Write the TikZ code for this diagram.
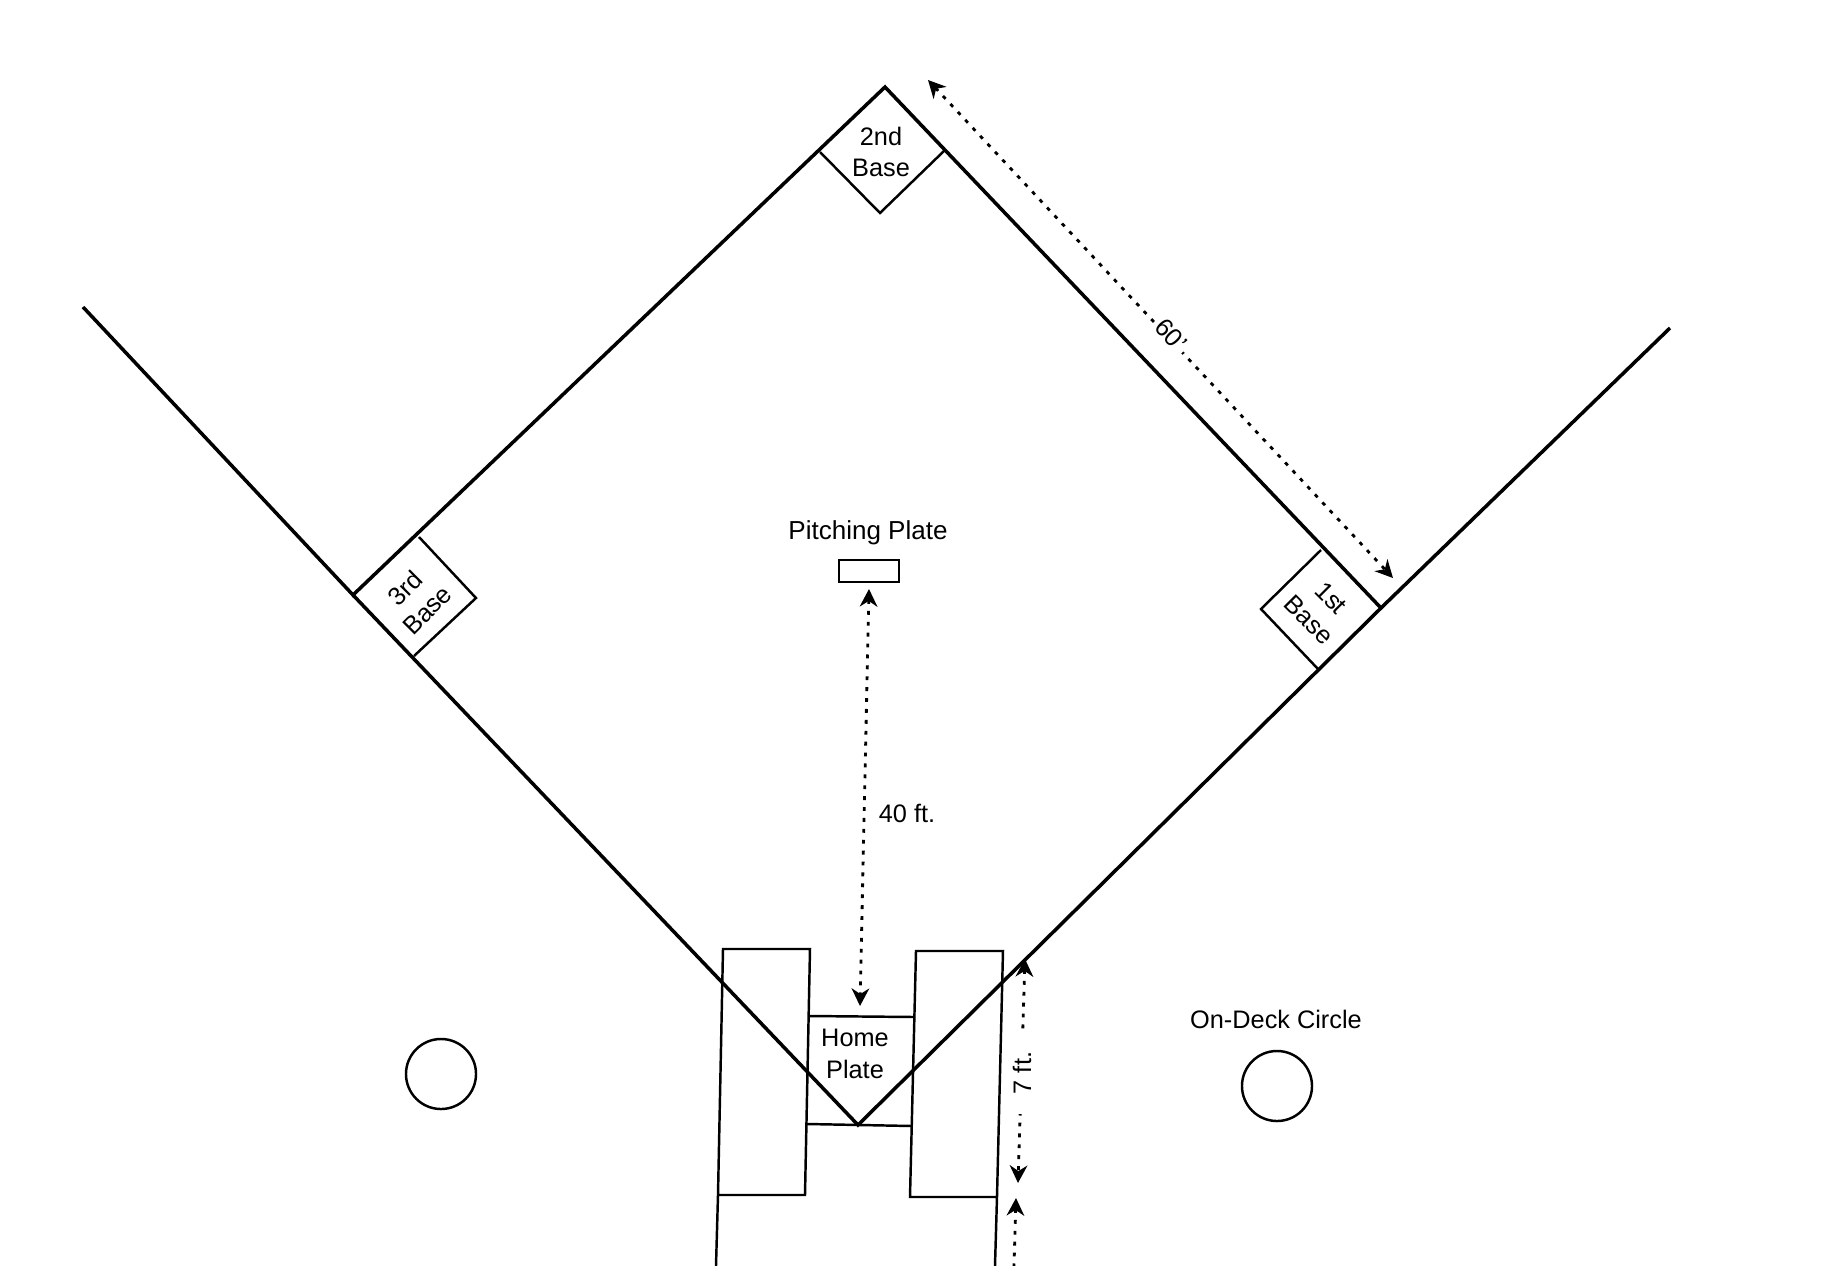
\documentclass[tikz,border=0pt]{standalone}
\usepackage{fontspec}
\setmainfont{Liberation Sans}
\usepackage{tikz}
\usetikzlibrary{arrows.meta}

\tikzset{
    fieldline/.style={line width=1pt},
    boxline/.style={line width=0.7pt},
    dimline/.style={line width=0.8pt,dash pattern=on 1.1pt off 2pt,>={Stealth[length=5pt,width=5pt,inset=1.6pt]}},
    label/.style={inner sep=0pt,align=center,font=\fontsize{7.2}{8.9}\selectfont},
    deckcircle/.style={circle,draw,line width=0.7pt,minimum size=0.7cm,inner sep=0pt}
}

\begin{document}
\begin{tikzpicture}[x=0.01cm,y=-0.01cm]
        \useasboundingbox (0,0) rectangle (1832,1266);
        % field corners
        \coordinate (home) at (858,1125);
        \coordinate (first) at (1381,608);
        \coordinate (second) at (885,87);
        \coordinate (third) at (353,595);
        \coordinate (leftfoul) at (83,307);
        \coordinate (rightfoul) at (1670,328);
        % foul lines and base paths
        \draw[fieldline] (leftfoul) -- (third) -- (second) -- (first) -- (rightfoul);
        \draw[fieldline] (third) -- (home) -- (first);
        % bases
        \coordinate (secondl) at (820,152);
        \coordinate (secondb) at (880,213);
        \coordinate (secondr) at (945,150);
        \draw[boxline] (secondl) -- (secondb) -- (secondr);
        \coordinate (thirdt) at (419,537);
        \coordinate (thirdr) at (476,598);
        \coordinate (thirdb) at (414,656);
        \draw[boxline] (thirdt) -- (thirdr) -- (thirdb);
        \coordinate (firstt) at (1321,550);
        \coordinate (firstl) at (1261,609);
        \coordinate (firstb) at (1318,669);
        \draw[boxline] (firstt) -- (firstl) -- (firstb);
        \node[label] (secondlabel) at (881,152) {2nd\\Base};
        \node[label,rotate=45] (thirdlabel) at (416,599) {3rd\\Base};
        \node[label,rotate=-45] (firstlabel) at (1320,609) {1st\\Base};
        % batter boxes
        \coordinate (ltl) at (723,949);
        \coordinate (ltr) at (810,949);
        \coordinate (lbr) at (805,1195);
        \coordinate (lbl) at (718,1195);
        \coordinate (lend) at (716,1266);
        \coordinate (rtl) at (916,951);
        \coordinate (rtr) at (1003,951);
        \coordinate (rbr) at (997,1197);
        \coordinate (rbl) at (910,1197);
        \coordinate (rend) at (995,1266);
        \draw[boxline] (lend) -- (lbl) -- (ltl) -- (ltr) -- (lbr) -- (lbl);
        \draw[boxline] (rend) -- (rbr) -- (rtr) -- (rtl) -- (rbl) -- (rbr);
        % home plate
        \coordinate (hometl) at (809,1016);
        \coordinate (hometr) at (914,1017);
        \coordinate (homebl) at (807,1124);
        \coordinate (homebr) at (912,1126);
        \draw[boxline] (hometl) -- (hometr);
        \draw[boxline] (homebl) -- (homebr);
        \node[label] (homelabel) at (855,1054) {Home\\Plate};
        % pitching plate
        \node[draw,boxline,minimum width=0.6cm,minimum height=0.22cm,inner sep=0pt] (plate) at (869,571) {};
        \node[label,font=\fontsize{7.4}{8.9}\selectfont] (platelabel) at (868,533) {Pitching Plate};
        % on-deck circles
        \node[deckcircle] (leftdeck) at (441,1074) {};
        \node[deckcircle] (rightdeck) at (1277,1086) {};
        \node[label] (decklabel) at (1276,1019) {On-Deck Circle};
        % 40 ft
        \coordinate (fortyt) at (869,589);
        \coordinate (fortyb) at (860,1006);
        \draw[dimline,<->] (fortyt) -- (fortyb);
        \node[label,fill=white,inner sep=1pt] (fortylabel) at (907,813) {40 ft.};
        % 60 ft
        \coordinate (sixtyt) at (928,80);
        \coordinate (sixtyb) at (1393,578);
        \draw[dimline,<->] (sixtyt) -- (sixtyb);
        \node[label,rotate=-47,fill=white,inner sep=1pt] (sixtylabel) at (1171,335) {60'};
        % 7 ft
        \coordinate (seventop) at (1025,959);
        \coordinate (sevenmid) at (1018,1183);
        \coordinate (sevenlow) at (1016,1198);
        \coordinate (sevenend) at (1014,1266);
        \draw[dimline,<->] (seventop) -- (sevenmid);
        \draw[dimline,<-] (sevenlow) -- (sevenend);
        \node[label,rotate=90,fill=white,inner sep=1pt,minimum width=0.81cm] (sevenlabel) at (1022,1073) {7 ft.};
    \end{tikzpicture}
\end{document}
